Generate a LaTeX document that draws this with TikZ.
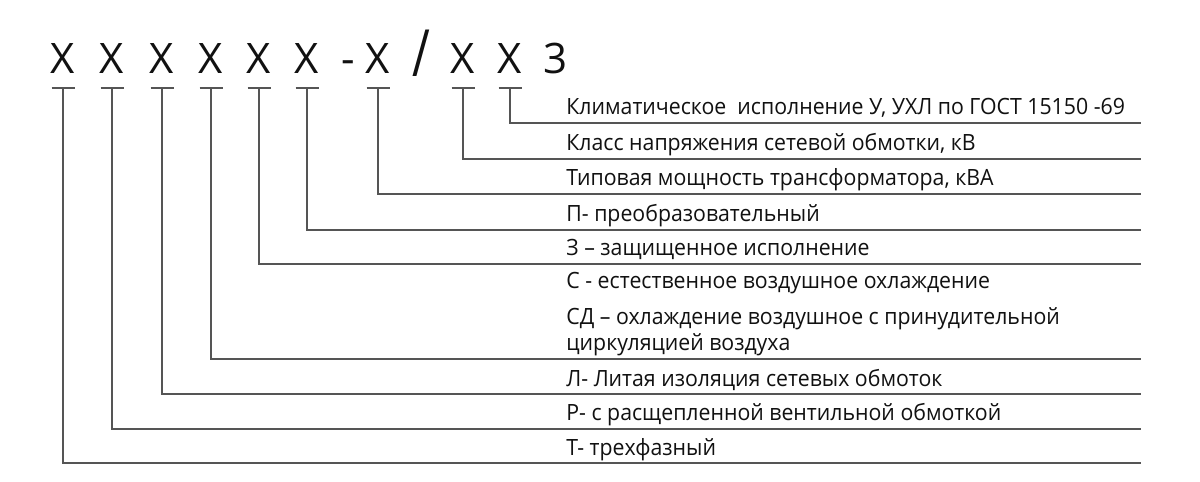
\documentclass[tikz,border=0pt]{standalone}
\usepackage{fontspec}
\setmainfont{Open Sans}
\newfontfamily\labfont[FakeStretch=0.95]{Open Sans}
\usetikzlibrary{positioning}
\definecolor{bg}{HTML}{FFFFFF}
\definecolor{ink}{HTML}{111111}
\definecolor{rule}{HTML}{555555}
\tikzset{
  base/.style={draw=rule, line width=0.8pt},
  sym/.style={text=ink, font=\fontsize{21}{21}\selectfont, anchor=base, inner sep=0pt},
  lab/.style={text=ink, font=\labfont\fontsize{11.2}{13}\selectfont, anchor=base west, inner sep=0pt},
}

\begin{document}
\begin{tikzpicture}[x=0.5pt,y=-0.5pt]
\useasboundingbox[fill=bg] (0,0) rectangle (1200,482);
% code letters
\node[sym] (s1) at (63,73) {X};
\node[sym] (s2) at (112,73) {X};
\node[sym] (s3) at (162,73) {X};
\node[sym] (s4) at (211,73) {X};
\node[sym] (s5) at (259,73) {X};
\node[sym] (s6) at (307,73) {X};
\node[sym] (d1) at (348,73) {-};
\node[sym] (s7) at (378,73) {X};
\node[sym] (d2) at (421,76) {\scalebox{1.15}[1.55]{/}};
\node[sym] (s8) at (463,73) {X};
\node[sym] (s9) at (510,73) {X};
\node[sym] (s10) at (556,73) {3};
% tick under each letter
\coordinate (t1) at (63,88);
\coordinate (t2) at (112,88);
\coordinate (t3) at (162,88);
\coordinate (t4) at (211,88);
\coordinate (t5) at (259,88);
\coordinate (t6) at (307,88);
\coordinate (t7) at (378,88);
\coordinate (t8) at (463,88);
\coordinate (t9) at (510,88);
% right ends of the rules
\coordinate (e1) at (1141,463);
\coordinate (e2) at (1141,429);
\coordinate (e3) at (1141,394);
\coordinate (e4) at (1141,359);
\coordinate (e5) at (1141,264);
\coordinate (e6) at (1141,230);
\coordinate (e7) at (1141,194);
\coordinate (e8) at (1141,159);
\coordinate (e9) at (1141,123);
% descriptions
\node[lab] (l9) at (566,114) {Климатическое~ исполнение У, УХЛ по ГОСТ 15150 -69};
\node[lab] (l8) at (566,150) {Класс напряжения сетевой обмотки, кВ};
\node[lab] (l7) at (566,185) {Типовая мощность трансформатора, кВА};
\node[lab] (l6) at (566,221) {П- преобразовательный};
\node[lab] (l5) at (566,255) {З – защищенное исполнение};
\node[lab] (l4) at (566,288) {С - естественное воздушное охлаждение};
\node[lab] (l4b) at (566,324) {СД – охлаждение воздушное с принудительной};
\node[lab] (l4c) at (566,350) {циркуляцией воздуха};
\node[lab] (l3) at (566,386) {Л- Литая изоляция сетевых обмоток};
\node[lab] (l2) at (566,420) {Р- с расщепленной вентильной обмоткой};
\node[lab] (l1) at (566,455) {Т- трехфазный};
% brackets
\draw[base] ([xshift=-5.75pt]t1) -- ([xshift=5.75pt]t1);
\draw[base] ([xshift=-5.75pt]t2) -- ([xshift=5.75pt]t2);
\draw[base] ([xshift=-5.75pt]t3) -- ([xshift=5.75pt]t3);
\draw[base] ([xshift=-5.75pt]t4) -- ([xshift=5.75pt]t4);
\draw[base] ([xshift=-5.75pt]t5) -- ([xshift=5.75pt]t5);
\draw[base] ([xshift=-5.75pt]t6) -- ([xshift=5.75pt]t6);
\draw[base] ([xshift=-5.75pt]t7) -- ([xshift=5.75pt]t7);
\draw[base] ([xshift=-5.75pt]t8) -- ([xshift=5.75pt]t8);
\draw[base] ([xshift=-5.75pt]t9) -- ([xshift=5.75pt]t9);
\draw[base] (t1) |- (e1);
\draw[base] (t2) |- (e2);
\draw[base] (t3) |- (e3);
\draw[base] (t4) |- (e4);
\draw[base] (t5) |- (e5);
\draw[base] (t6) |- (e6);
\draw[base] (t7) |- (e7);
\draw[base] (t8) |- (e8);
\draw[base] (t9) |- (e9);
\end{tikzpicture}
\end{document}
